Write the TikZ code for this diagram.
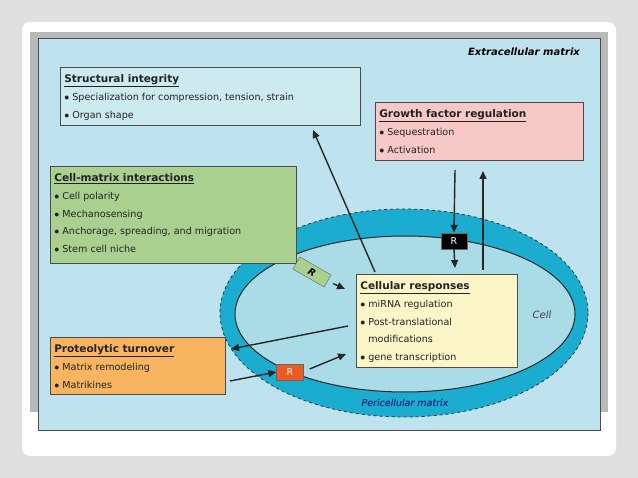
\documentclass[tikz,border=0pt]{standalone}
\usepackage{fontspec}
\setmainfont{DejaVu Sans}
\usetikzlibrary{arrows.meta}
\definecolor{bgblue}{HTML}{BFE3EE}
\definecolor{peri}{HTML}{1AADD0}
\definecolor{cellc}{HTML}{A9DCE6}
\definecolor{structc}{HTML}{CDEAEE}
\definecolor{growc}{HTML}{F6C8C8}
\definecolor{greenc}{HTML}{AAD08F}
\definecolor{orangec}{HTML}{F8B45E}
\definecolor{yellowc}{HTML}{FCF5C8}
\definecolor{redr}{HTML}{EE5A22}
\definecolor{txt}{HTML}{222222}
\newcommand{\bx}[3]{\begin{minipage}[t][#2][t]{#1}\vspace{3pt}#3\end{minipage}}
\newcommand{\ttl}[1]{\underline{\textbf{\fontsize{10.5}{14}\selectfont #1}}\\[1pt]}
\begin{document}
\begin{tikzpicture}[x=1pt,y=-1pt,
  box/.style={draw=black!70,line width=0.6pt,anchor=north west,align=left,inner sep=4pt,font=\fontsize{9.6}{17.5}\selectfont,text=txt},
  arr/.style={-{Triangle[length=8pt,width=7pt]},line width=1.4pt,black!85},
  rbox/.style={draw=black!60,font=\fontsize{9.5}{10}\selectfont,minimum width=26pt,minimum height=16pt,inner sep=0pt}]
\useasboundingbox (0,0) rectangle (638,478);
\fill[gray!25] (0,0) rectangle (638,478);
\fill[white,rounded corners=8pt] (22,22) rectangle (616,456);
\fill[gray!55] (30,32) rectangle (608,412);
\filldraw[fill=bgblue,draw=black!70,line width=0.8pt] (38,38) rectangle (600,430);
\node[font=\fontsize{10}{11}\selectfont\bfseries\itshape] (ecm) at (524,52) {Extracellular matrix};
% cell
\filldraw[fill=peri,draw=black!80,dashed,line width=0.8pt] (404,313) ellipse [x radius=184,y radius=104];
\filldraw[fill=cellc,draw=black!85,line width=1pt] (405,314) ellipse [x radius=170,y radius=78];
\node[font=\fontsize{10}{11}\selectfont\itshape,text=black!75] (cell) at (542,315) {Cell};
\node[font=\fontsize{9.5}{11}\selectfont\itshape,text=blue!40!black] (pm) at (405,403) {Pericellular matrix};
% boxes
\node[box,fill=structc] (si) at (60,67)
 {\bx{292pt}{50pt}{\ttl{Structural integrity} $\bullet$ Specialization for compression, tension, strain\\ $\bullet$ Organ shape}};
\node[box,fill=growc] (gf) at (375,102)
 {\bx{200pt}{50pt}{\ttl{Growth factor regulation} $\bullet$ Sequestration\\ $\bullet$ Activation}};
\node[box,fill=greenc] (cm) at (50,166)
 {\bx{238pt}{89pt}{\ttl{Cell-matrix interactions} $\bullet$ Cell polarity\\ $\bullet$ Mechanosensing\\ $\bullet$ Anchorage, spreading, and migration\\ $\bullet$ Stem cell niche}};
\node[box,fill=orangec] (pt) at (50,337)
 {\bx{167pt}{49pt}{\ttl{Proteolytic turnover} $\bullet$ Matrix remodeling\\ $\bullet$ Matrikines}};
\node[box,fill=yellowc] (cr) at (356,274)
 {\bx{153pt}{85pt}{\ttl{Cellular responses} $\bullet$ miRNA regulation\\ $\bullet$ Post-translational\\ \phantom{$\bullet$} modifications\\ $\bullet$ gene transcription}};
% receptors
\node[rbox,fill=black,text=white] (rb) at (454,241) {R};
\node[rbox,fill=redr,text=white,minimum width=27pt] (ro) at (290,372) {R};
\node[rbox,fill=greenc,rotate=-30,minimum width=36pt,minimum height=14pt,font=\fontsize{9.5}{10}\selectfont\bfseries\itshape] (rg) at (312,272) {R};
% arrows
\coordinate (a1) at (375,272); \coordinate (a2) at (313,130);
\draw[arr] (a1) -- (a2);
\coordinate (b1) at (455,170);
\draw[arr] (b1) -- (rb.north);
\coordinate (b2) at (455,268);
\draw[arr] (rb.south) -- (b2);
\coordinate (c1) at (483,270); \coordinate (c2) at (483,171);
\draw[arr] (c1) -- (c2);
\coordinate (d2) at (345,289);
\draw[arr,shorten <=6pt] (rg.east) -- (d2);
\coordinate (e1) at (348,326); \coordinate (e2) at (231,349);
\draw[arr] (e1) -- (e2);
\coordinate (f1) at (230,381);
\draw[arr] (f1) -- (ro.west);
\coordinate (g2) at (346,354);
\draw[arr] (ro.east) ++(6,-3) -- (g2);
\end{tikzpicture}
\end{document}
